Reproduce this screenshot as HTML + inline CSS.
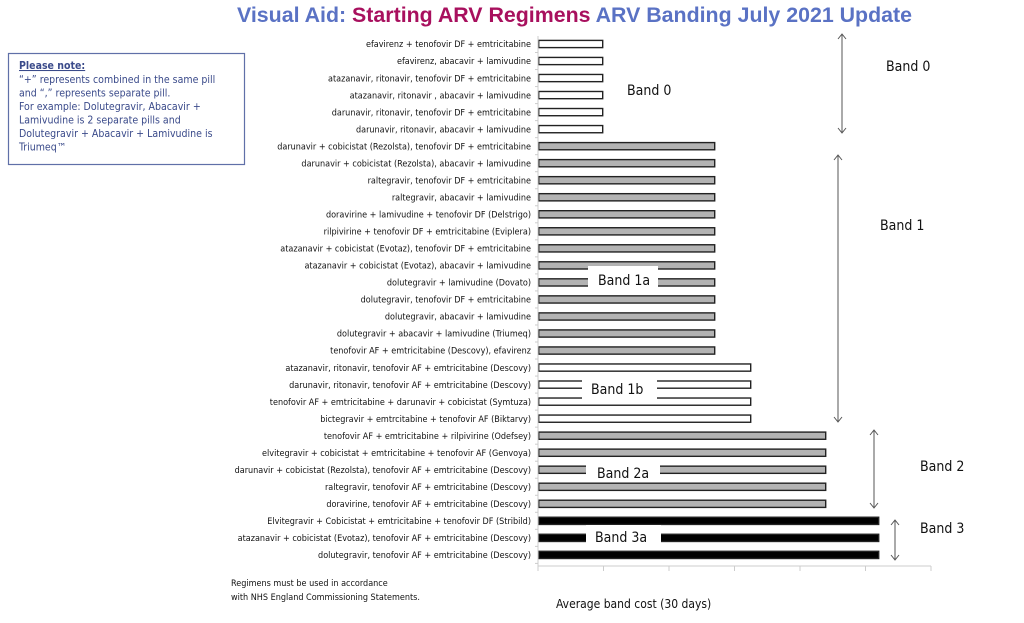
<!DOCTYPE html>
<html><head><meta charset="utf-8"><style>
html,body{margin:0;padding:0;background:#fff;}
svg{display:block;font-family:"Liberation Sans",sans-serif;}
.l{font-size:9px;fill:#111;text-anchor:end;font-family:"DejaVu Sans Condensed","Liberation Sans",sans-serif;}
.b{font-size:14px;fill:#111;font-family:"DejaVu Sans Condensed","Liberation Sans",sans-serif;}
.s{font-size:12px;fill:#111;font-family:"DejaVu Sans Condensed","Liberation Sans",sans-serif;}
</style></head><body>
<svg width="1024" height="623" viewBox="0 0 1024 623">
<text x="237" y="22" font-size="21" font-weight="bold" textLength="675" lengthAdjust="spacingAndGlyphs"><tspan fill="#5a72c4">Visual Aid: </tspan><tspan fill="#a8105e">Starting ARV Regimens </tspan><tspan fill="#5a72c4">ARV Banding  July 2021 Update</tspan></text>
<rect x="8.5" y="53.5" width="236" height="111" fill="#fff" stroke="#6070a8" stroke-width="1.2"/>
<g font-size="10.5" fill="#3a4a8a" font-family="DejaVu Sans Condensed,Liberation Sans,sans-serif">
<text x="19" y="69" font-weight="bold" text-decoration="underline">Please note:</text>
<text x="19" y="83">“+” represents combined in the same pill</text>
<text x="19" y="96.5">and “,” represents separate pill.</text>
<text x="19" y="110">For example: Dolutegravir, Abacavir +</text>
<text x="19" y="123.5">Lamivudine is 2 separate pills and</text>
<text x="19" y="137">Dolutegravir + Abacavir + Lamivudine is</text>
<text x="19" y="150.5">Triumeq™</text>
</g>
<g id="rows"></g>
<line x1="538" y1="36" x2="538" y2="566" stroke="#ccc"/>
<line x1="538" y1="566" x2="931" y2="566" stroke="#ccc"/>
<g stroke="#ccc">
<line x1="538" y1="566" x2="538" y2="571"/><line x1="603.5" y1="566" x2="603.5" y2="571"/><line x1="669" y1="566" x2="669" y2="571"/><line x1="734.5" y1="566" x2="734.5" y2="571"/><line x1="800" y1="566" x2="800" y2="571"/><line x1="865.5" y1="566" x2="865.5" y2="571"/><line x1="931" y1="566" x2="931" y2="571"/>
</g>
<g id="boxes">
<rect x="588" y="266" width="70" height="24" fill="#fff"/>
<rect x="582" y="379" width="75" height="20" fill="#fff"/>
<rect x="586" y="463" width="74" height="19" fill="#fff"/>
<rect x="586" y="525" width="75" height="20" fill="#fff"/>
</g>
<text class="b" x="627" y="95" font-size="13">Band 0</text>
<text class="b" x="598" y="285" font-size="13">Band 1a</text>
<text class="b" x="591" y="394" font-size="13">Band 1b</text>
<text class="b" x="597" y="478" font-size="13">Band 2a</text>
<text class="b" x="595" y="542" font-size="13">Band 3a</text>
<g stroke="#555" stroke-width="1" fill="none">
<path d="M842 34V133M838 39L842 34L846 39M838 128L842 133L846 128"/>
<path d="M838 155V422M834 160L838 155L842 160M834 417L838 422L842 417"/>
<path d="M874 430V508M870 435L874 430L878 435M870 503L874 508L878 503"/>
<path d="M895 520V560M891 525L895 520L899 525M891 555L895 560L899 555"/>
</g>
<text class="b" x="886" y="71">Band 0</text>
<text class="b" x="880" y="230">Band 1</text>
<text class="b" x="920" y="471">Band 2</text>
<text class="b" x="920" y="533">Band 3</text>
<text class="l" style="text-anchor:start" x="231" y="586">Regimens must be used in accordance</text>
<text class="l" style="text-anchor:start" x="231" y="600">with NHS England  Commissioning Statements.</text>
<text class="s" x="556" y="608">Average band cost (30 days)</text>
</svg>
<script>
var d=[
["efavirenz + tenofovir DF + emtricitabine",603,0],
["efavirenz, abacavir + lamivudine",603,0],
["atazanavir, ritonavir, tenofovir DF + emtricitabine",603,0],
["atazanavir, ritonavir , abacavir + lamivudine",603,0],
["darunavir, ritonavir, tenofovir DF + emtricitabine",603,0],
["darunavir, ritonavir,  abacavir + lamivudine",603,0],
["darunavir + cobicistat (Rezolsta),   tenofovir DF + emtricitabine",715,1],
["darunavir + cobicistat (Rezolsta), abacavir + lamivudine",715,1],
["raltegravir,  tenofovir DF + emtricitabine",715,1],
["raltegravir,  abacavir + lamivudine",715,1],
["doravirine + lamivudine + tenofovir DF (Delstrigo)",715,1],
["rilpivirine + tenofovir DF + emtricitabine  (Eviplera)",715,1],
["atazanavir + cobicistat (Evotaz), tenofovir DF + emtricitabine",715,1],
["atazanavir + cobicistat (Evotaz), abacavir + lamivudine",715,1],
["dolutegravir + lamivudine (Dovato)",715,1],
["dolutegravir,  tenofovir DF + emtricitabine",715,1],
["dolutegravir, abacavir + lamivudine",715,1],
["dolutegravir + abacavir + lamivudine  (Triumeq)",715,1],
["tenofovir AF + emtricitabine (Descovy), efavirenz",715,1],
["atazanavir, ritonavir, tenofovir AF + emtricitabine (Descovy)",751,0],
["darunavir, ritonavir, tenofovir AF + emtricitabine (Descovy)",751,0],
["tenofovir AF + emtricitabine + darunavir + cobicistat (Symtuza)",751,0],
["bictegravir + emtrcitabine + tenofovir AF (Biktarvy)",751,0],
["tenofovir AF + emtricitabine + rilpivirine  (Odefsey)",826,1],
["elvitegravir + cobicistat + emtricitabine + tenofovir AF (Genvoya)",826,1],
["darunavir + cobicistat (Rezolsta), tenofovir AF + emtricitabine (Descovy)",826,1],
["raltegravir, tenofovir AF + emtricitabine (Descovy)",826,1],
["doravirine, tenofovir AF + emtricitabine (Descovy)",826,1],
["Elvitegravir + Cobicistat + emtricitabine + tenofovir DF (Stribild)",879,2],
["atazanavir + cobicistat (Evotaz), tenofovir AF + emtricitabine (Descovy)",879,2],
["dolutegravir, tenofovir AF + emtricitabine (Descovy)",879,2]];
var g=document.getElementById('rows'),s='';
d.forEach(function(r,i){var y=44+i*17.03;
s+='<text class="l" x="531" y="'+(y+3.2)+'">'+r[0]+'</text>';
s+='<line x1="535" x2="538" y1="'+(y+8.5)+'" y2="'+(y+8.5)+'" stroke="#ccc"/>';
var f=r[2]==0?'#fff':r[2]==1?'#b3b3b3':'#000';
s+='<rect x="538.7" y="'+(y-3.6)+'" width="'+(r[1]-539)+'" height="7.2" fill="'+f+'" stroke="#222" stroke-width="1.4"/>';});
g.innerHTML=s;
</script>
</body></html>
